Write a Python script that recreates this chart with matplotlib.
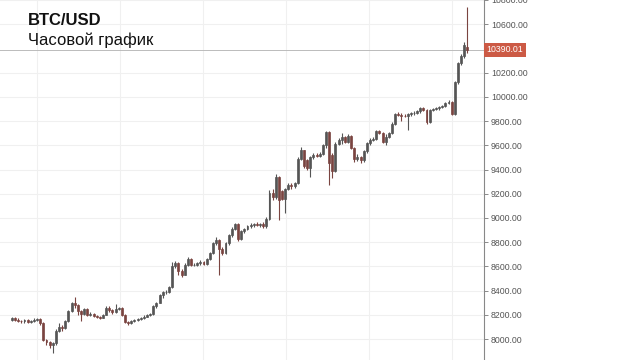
import numpy as np
import matplotlib.pyplot as plt

# hourly BTC/USD candles (open, high, low, close)
opens = [8160, 8170, 8160, 8150, 8145, 8155, 8140, 8150, 8160, 8165,
         8130, 7990, 7975, 7950, 7965, 8070, 8100, 8090, 8150, 8230,
         8300, 8280, 8230, 8210, 8250, 8200, 8210, 8190, 8180, 8175,
         8200, 8260, 8240, 8220, 8250, 8255, 8200, 8140, 8135, 8150,
         8155, 8165, 8170, 8185, 8200, 8205, 8270, 8300, 8360, 8385,
         8390, 8430, 8600, 8630, 8560, 8530, 8615, 8665, 8610, 8615,
         8625, 8640, 8620, 8660, 8710, 8790, 8815, 8740, 8710, 8790,
         8860, 8910, 8950, 8830, 8890, 8910, 8935, 8940, 8950, 8940,
         8950, 8930, 8995, 9210, 9170, 9340, 9225, 9155, 9240, 9270,
         9260, 9290, 9490, 9560, 9480, 9415, 9500, 9520, 9515, 9530,
         9600, 9710, 9520, 9390, 9610, 9645, 9665, 9630, 9675, 9580,
         9490, 9500, 9475, 9550, 9615, 9645, 9655, 9715, 9700, 9630,
         9670, 9700, 9780, 9860, 9850, 9845, 9840, 9855, 9865, 9870,
         9880, 9905, 9890, 9795, 9890, 9900, 9905, 9915, 9925, 9950,
         9960, 9860, 10120, 10280, 10340, 10415]
highs = [8185, 8180, 8170, 8160, 8165, 8165, 8160, 8170, 8175, 8170,
         8140, 8000, 7985, 7975, 8080, 8130, 8115, 8160, 8240, 8310,
         8345, 8290, 8240, 8260, 8260, 8220, 8215, 8200, 8190, 8210,
         8270, 8270, 8250, 8290, 8265, 8265, 8205, 8150, 8160, 8165,
         8175, 8180, 8195, 8210, 8215, 8280, 8310, 8370, 8395, 8405,
         8440, 8640, 8645, 8640, 8575, 8625, 8675, 8670, 8625, 8635,
         8650, 8645, 8670, 8720, 8800, 8840, 8825, 8760, 8800, 8870,
         8925, 8960, 8960, 8900, 8920, 8945, 8955, 8960, 8965, 8960,
         8970, 9005, 9230, 9240, 9365, 9350, 9235, 9245, 9285, 9290,
         9300, 9500, 9585, 9565, 9485, 9510, 9535, 9540, 9545, 9610,
         9720, 9720, 9540, 9625, 9660, 9700, 9675, 9690, 9685, 9590,
         9530, 9510, 9560, 9630, 9660, 9670, 9725, 9730, 9710, 9690,
         9710, 9790, 9870, 9875, 9865, 9860, 9865, 9875, 9880, 9890,
         9915, 9915, 9900, 9900, 9910, 9915, 9925, 9935, 9960, 9975,
         9965, 10130, 10290, 10350, 10450, 10740]
lows = [8150, 8150, 8140, 8135, 8130, 8130, 8130, 8140, 8150, 8120,
        7980, 7950, 7930, 7885, 7955, 8060, 8070, 8080, 8140, 8220,
        8260, 8200, 8150, 8200, 8190, 8190, 8180, 8170, 8165, 8170,
        8195, 8225, 8210, 8215, 8240, 8190, 8130, 8120, 8125, 8140,
        8150, 8155, 8165, 8180, 8190, 8195, 8260, 8295, 8340, 8375,
        8380, 8425, 8585, 8530, 8515, 8525, 8605, 8600, 8600, 8605,
        8615, 8610, 8610, 8650, 8700, 8780, 8530, 8690, 8700, 8780,
        8840, 8900, 8810, 8820, 8875, 8900, 8920, 8925, 8930, 8925,
        8920, 8920, 8985, 9150, 9160, 8980, 9145, 9040, 9230, 9240,
        9250, 9280, 9480, 9415, 9400, 9340, 9490, 9500, 9500, 9520,
        9580, 9270, 9330, 9380, 9600, 9610, 9620, 9620, 9570, 9460,
        9470, 9455, 9465, 9540, 9600, 9635, 9645, 9690, 9620, 9600,
        9660, 9690, 9770, 9840, 9800, 9830, 9725, 9845, 9850, 9860,
        9870, 9880, 9780, 9785, 9880, 9890, 9895, 9905, 9915, 9940,
        9850, 9850, 10110, 10260, 10320, 10360]
closes = [8175, 8160, 8150, 8145, 8155, 8140, 8150, 8160, 8165, 8130,
          7990, 7975, 7950, 7965, 8070, 8100, 8090, 8150, 8230, 8300,
          8280, 8230, 8210, 8250, 8200, 8210, 8190, 8180, 8175, 8200,
          8260, 8240, 8220, 8250, 8255, 8200, 8140, 8135, 8150, 8155,
          8165, 8170, 8185, 8200, 8205, 8270, 8300, 8360, 8385, 8390,
          8430, 8600, 8630, 8560, 8530, 8615, 8665, 8610, 8615, 8625,
          8640, 8620, 8660, 8710, 8790, 8815, 8740, 8710, 8790, 8860,
          8910, 8950, 8830, 8890, 8910, 8935, 8940, 8950, 8940, 8950,
          8930, 8995, 9210, 9170, 9340, 9150, 9155, 9240, 9270, 9260,
          9290, 9490, 9560, 9430, 9415, 9500, 9520, 9515, 9530, 9600,
          9710, 9450, 9390, 9610, 9645, 9665, 9630, 9675, 9580, 9490,
          9500, 9475, 9550, 9615, 9645, 9655, 9715, 9700, 9630, 9670,
          9700, 9780, 9860, 9850, 9845, 9840, 9855, 9865, 9870, 9880,
          9905, 9890, 9795, 9890, 9900, 9905, 9915, 9925, 9950, 9960,
          9860, 10120, 10280, 10340, 10430, 10390.01]

price_ticks = [8000, 8200, 8400, 8600, 8800, 9000, 9200, 9400, 9600, 9800,
               10000, 10200, 10600, 10800]
last_price = 10390.01
title = "BTC/USD"
subtitle = "Часовой график"

plt.rcParams['font.family'] = ['Liberation Sans', 'DejaVu Sans']

o = np.array(opens, dtype=float)
h = np.array(highs, dtype=float)
l = np.array(lows, dtype=float)
c = np.array(closes, dtype=float)
x = np.arange(len(o))
up = c >= o
cols = np.where(up, '#555555', '#7a4440')

fig = plt.figure(figsize=(6.4, 3.6), dpi=100)
ax = fig.add_axes([0, 0, 484 / 640, 1])

ax.vlines(x, l, h, colors=cols, linewidth=0.8, zorder=3)
ax.bar(x, np.abs(c - o), bottom=np.minimum(o, c), width=0.62,
       color=cols, edgecolor=cols, linewidth=0.5, zorder=4)

ax.set_xlim(-3.8, len(o) - 1 + 5.3)
ax.set_ylim(7827, 10798)

# grid
ax.set_xticks(np.arange(8, len(o), 26.4))
ax.set_xticklabels([])
ax.tick_params(axis='x', length=0)
ax.grid(True, color='#f0f0f0', linewidth=0.8, zorder=0)

ax.yaxis.tick_right()
ax.set_yticks(price_ticks)
ax.set_yticklabels([f"{t:.2f}" for t in price_ticks])
ax.tick_params(axis='y', direction='out', length=3, width=0.6,
               colors='#777777', labelsize=6.3, labelcolor='#555555', pad=2)

for s in ['top', 'left', 'bottom']:
    ax.spines[s].set_visible(False)
ax.spines['right'].set_color('#888888')
ax.spines['right'].set_linewidth(0.8)

# current price line and label
ax.axhline(last_price, color='#bbbbbb', linewidth=0.7, zorder=2)
ax.annotate(f"{last_price:.2f}", xy=(1, last_price), xycoords=('axes fraction', 'data'),
            xytext=(2, 0), textcoords='offset points', va='center', ha='left',
            fontsize=6.3, color='white',
            bbox=dict(boxstyle='square,pad=0.3', fc='#cc5a45', ec='none'),
            annotation_clip=False)

fig.text(28 / 640, 1 - 25 / 360, title, fontsize=12, fontweight='bold', color='#111111')
fig.text(28 / 640, 1 - 45 / 360, subtitle, fontsize=12, color='#111111')

fig.savefig('out.png', dpi=100)
